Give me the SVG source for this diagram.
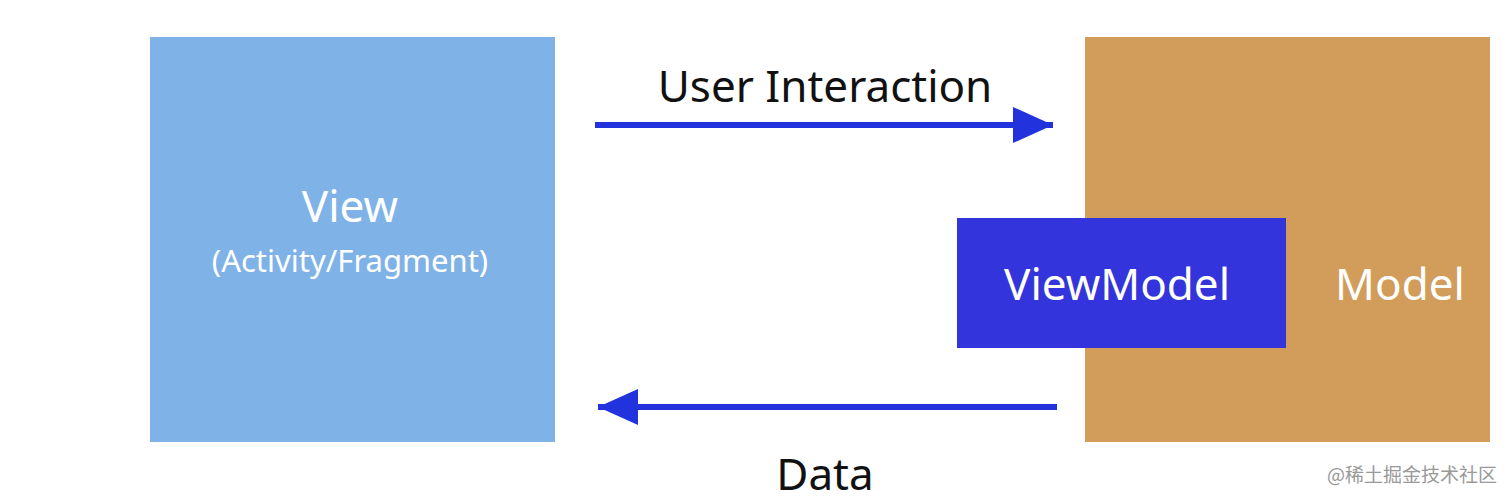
<svg xmlns="http://www.w3.org/2000/svg" width="1510" height="502" viewBox="0 0 1510 502">
<style>
text{font-family:"Noto Sans","Open Sans",sans-serif;text-anchor:middle}
.w{fill:#fff}
.k{fill:#111}
.c{stroke:#2233dd;stroke-width:6;fill:none}
</style>
<defs><marker id="a" markerWidth="8" markerHeight="8" refX="7" refY="4" orient="auto" markerUnits="userSpaceOnUse" viewBox="0 0 8 8"><path d="M0,0L8,4L0,8z" fill="#2233dd"/></marker>
<marker id="h" viewBox="0 0 40 36" refX="40" refY="18" markerWidth="40" markerHeight="36" orient="auto" markerUnits="userSpaceOnUse"><path d="M0,0L40,18L0,36z" fill="#2233dd"/></marker></defs>
<rect width="1510" height="502" fill="#fff"/>
<g id="view"><rect x="150" y="37" width="405" height="405" fill="#7fb3e8"/>
<text class="w" x="350" y="222" font-size="44">View</text>
<text class="w" x="350" y="272" font-size="31">(Activity/Fragment)</text></g>
<g id="model"><rect x="1085" y="37" width="405" height="405" fill="#d29c5a"/>
<text class="w" x="1400" y="300" font-size="44">Model</text></g>
<g id="viewmodel"><rect x="957" y="218" width="329" height="130" fill="#3434dc"/>
<text class="w" x="1117" y="300" font-size="44">ViewModel</text></g>
<g id="connectors">
<path class="c" d="M595,125H1053" marker-end="url(#h)"/>
<path class="c" d="M1057,407H598" marker-end="url(#h)"/>
<text class="k" x="825" y="102" font-size="44">User Interaction</text>
<text class="k" x="825" y="490" font-size="44">Data</text>
</g>
<text x="1412" y="482" font-size="19" fill="#999" style="font-family:'Noto Sans CJK SC',sans-serif">@稀土掘金技术社区</text>
</svg>
